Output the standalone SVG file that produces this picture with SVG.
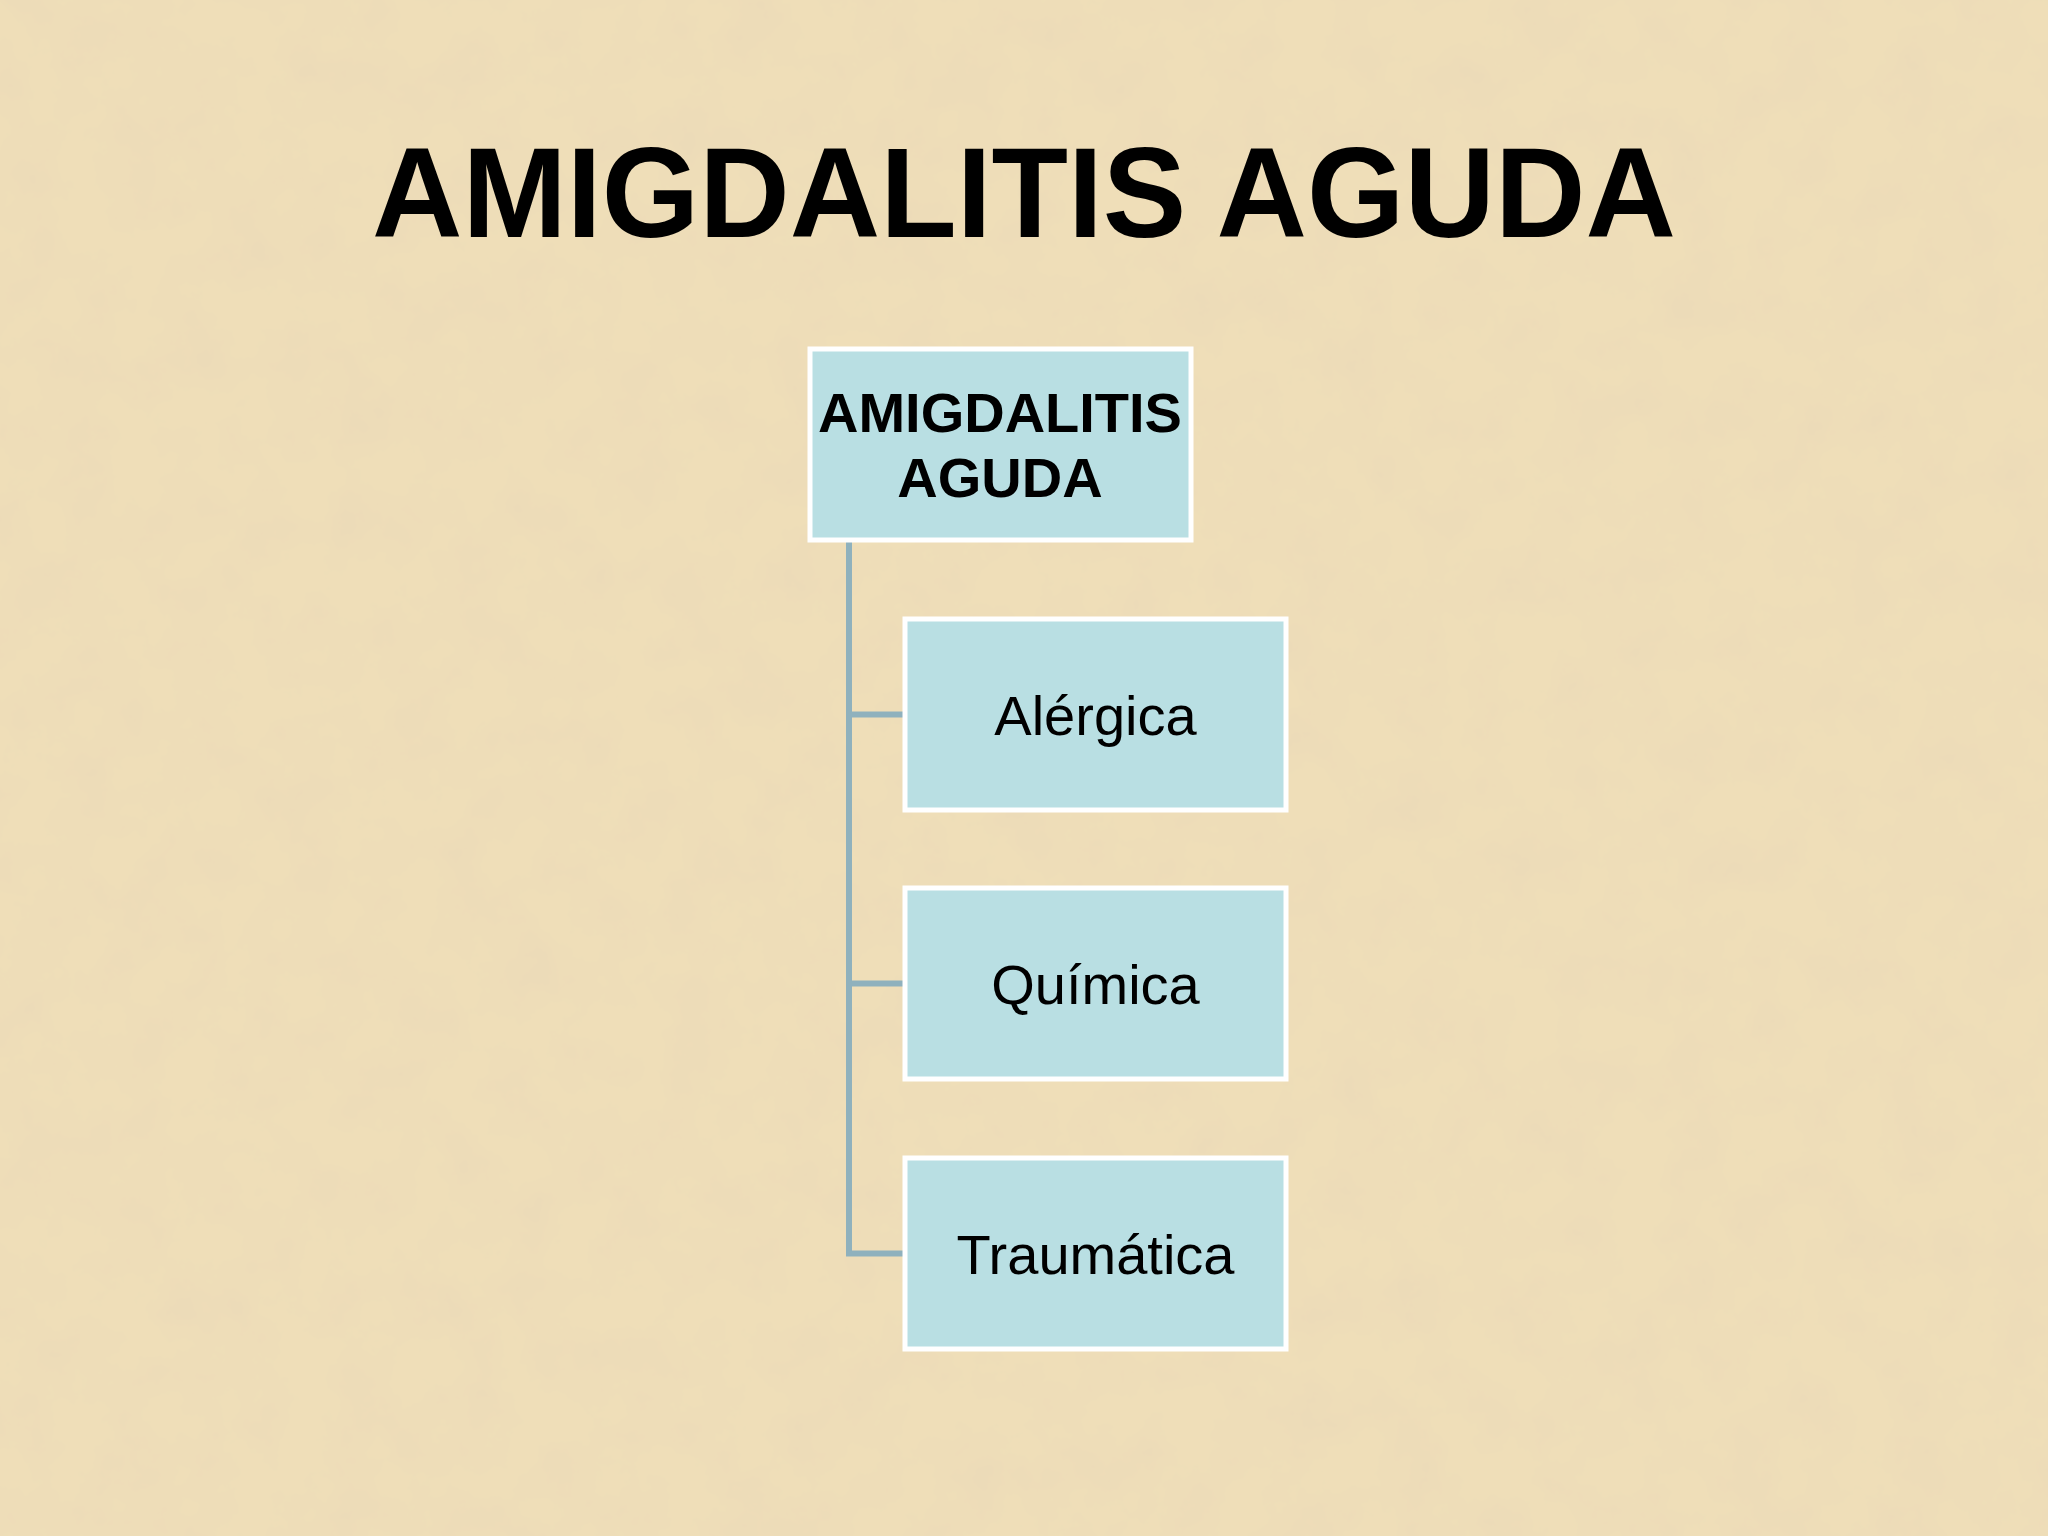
<svg xmlns="http://www.w3.org/2000/svg" width="2048" height="1536" viewBox="0 0 2048 1536">
<style>
.box{fill:#b9dfe3;stroke:#ffffff;stroke-width:5}
.conn{fill:none;stroke:#8fb1bd;stroke-width:6}
.t{font-family:"Liberation Sans",Arial,sans-serif;fill:#000;text-anchor:middle}
.b{font-weight:bold}
</style>
<defs>
<filter id="tex" x="0" y="0" width="100%" height="100%">
<feTurbulence type="fractalNoise" baseFrequency="0.018" numOctaves="5" seed="7" result="n"/>
<feColorMatrix in="n" type="matrix" values="0 0 0 0 0.84  0 0 0 0 0.71  0 0 0 0 0.48  0 0 0 2.2 -0.85" result="c"/>
<feComposite in="c" in2="SourceGraphic" operator="over"/>
</filter>
</defs>
<rect width="2048" height="1536" fill="#efdeb8" filter="url(#tex)"/>
<text class="t b" x="1024" y="237" font-size="128" textLength="1304" lengthAdjust="spacingAndGlyphs">AMIGDALITIS AGUDA</text>
<g id="connectors">
<path class="conn" d="M849 542 V1253.5 H903"/>
<path class="conn" d="M849 714.5 H903"/>
<path class="conn" d="M849 983.5 H903"/>
</g>
<g id="root">
<rect class="box" x="810" y="349" width="381" height="191"/>
<text class="t b" x="1000" y="432" font-size="56">AMIGDALITIS</text>
<text class="t b" x="1000" y="497" font-size="56">AGUDA</text>
</g>
<g id="alergica">
<rect class="box" x="905" y="619" width="381" height="191"/>
<text class="t" x="1095.5" y="735" font-size="56">Alérgica</text>
</g>
<g id="quimica">
<rect class="box" x="905" y="888" width="381" height="191"/>
<text class="t" x="1095.5" y="1004" font-size="56">Química</text>
</g>
<g id="traumatica">
<rect class="box" x="905" y="1158" width="381" height="191"/>
<text class="t" x="1095.5" y="1274" font-size="56">Traumática</text>
</g>
</svg>
